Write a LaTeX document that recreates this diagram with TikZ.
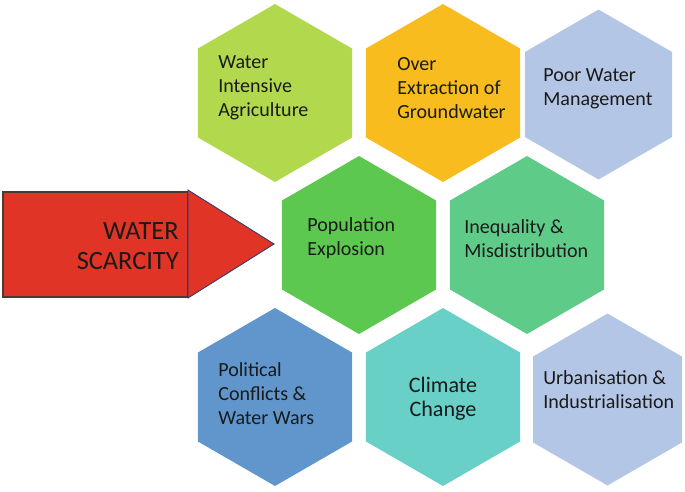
\documentclass[tikz,border=0pt]{standalone}
\usepackage{fontspec}
\setmainfont{Carlito}
\usetikzlibrary{calc,shapes.geometric}

\definecolor{agrigreen}{HTML}{B2D94E}
\definecolor{groundorange}{HTML}{F8BC1E}
\definecolor{paleblue}{HTML}{B4C6E5}
\definecolor{popgreen}{HTML}{5DC84F}
\definecolor{mintgreen}{HTML}{5ECC88}
\definecolor{conflictblue}{HTML}{6096CB}
\definecolor{climateteal}{HTML}{69D0C8}
\definecolor{scarcityred}{HTML}{E03426}
\definecolor{rimgray}{HTML}{4A3A36}
\definecolor{rimnavy}{HTML}{2F3C6E}
\definecolor{inktext}{HTML}{1A1A1A}

\tikzset{
	hexa/.style={regular polygon, regular polygon sides=6, shape border rotate=30,
		draw=none, inner sep=0pt, outer sep=0pt, minimum size=3.56cm},
	hextext/.style={anchor=west, align=left, inner sep=0pt, text=inktext,
		font=\fontsize{11.4}{13.7}\selectfont},
}

\begin{document}
\begin{tikzpicture}[x=0.02cm, y=0.02cm]
			%%%%% START %%%%%
			\useasboundingbox (0, 0) rectangle (685, 491);
			
			% top row
			\node[hexa, fill=agrigreen] (agri) at (275, 398) {};
			\node[hexa, fill=groundorange] (ground) at (443, 398) {};
			\node[hexa, fill=paleblue, minimum size=3.4cm] (manage) at (598.5, 396.5) {};
			
			% middle row
			\node[hexa, fill=popgreen] (pop) at (359, 246) {};
			\node[hexa, fill=mintgreen] (inequal) at (527, 246) {};
			
			% bottom row
			\node[hexa, fill=conflictblue] (conflict) at (275, 94) {};
			\node[hexa, fill=climateteal] (climate) at (443, 94) {};
			\node[hexa, fill=paleblue, minimum size=3.44cm] (urban) at (607.5, 91.5) {};
			
			\node[hextext] (agrilbl) at ($(agri.center)+(-57, 5)$) {Water\\Intensive\\Agriculture};
			\node[hextext] (groundlbl) at ($(ground.center)+(-46, 5)$) {Over\\Extraction of\\Groundwater};
			\node[hextext] (managelbl) at ($(manage.center)+(-55.5, 6)$) {Poor Water\\Management};
			\node[hextext] (poplbl) at ($(pop.center)+(-52, 6.5)$) {Population\\Explosion};
			\node[hextext] (inequallbl) at ($(inequal.center)+(-63, 6.5)$) {Inequality \&\\Misdistribution};
			\node[hextext] (conflictlbl) at ($(conflict.center)+(-57, 3)$) {Political\\Conflicts \&\\Water Wars};
			\node[hextext, anchor=center, align=center, font=\fontsize{12.6}{13.7}\selectfont] (climatelbl) at ($(climate.center)+(0, -2)$) {Climate\\Change};
			\node[hextext] (urbanlbl) at ($(urban.center)+(-64.5, 10)$) {Urbanisation \&\\Industrialisation};
			
			% arrow
			\coordinate (tail) at (3, 194);
			\coordinate (neck) at (188, 299);
			\coordinate (tip) at (274, 247);
			\draw[fill=scarcityred, draw=rimgray, line width=0.6pt] (tail) rectangle (neck);
			\draw[fill=scarcityred, draw=rimnavy, line width=0.5pt] (188, 301) -- (tip) -- (188, 193) -- cycle;
			\node[anchor=east, align=right, inner sep=0pt, text=inktext,
				font=\fontsize{15}{17}\selectfont] (scarcity) at (179, 245) {WATER\\SCARCITY};
			%%%%% END %%%%%
		\end{tikzpicture}
\end{document}
